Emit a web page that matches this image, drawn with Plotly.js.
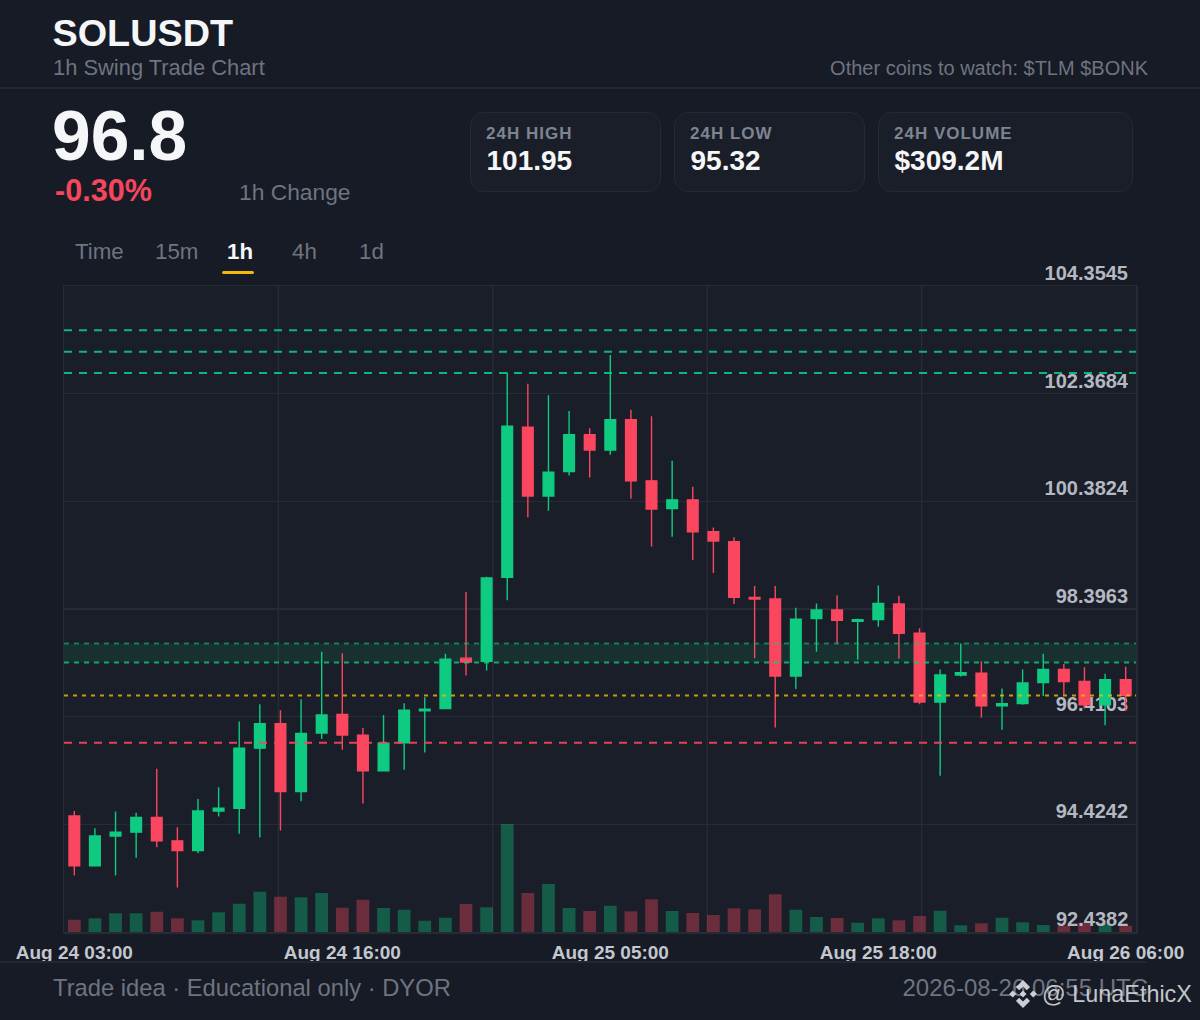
<!DOCTYPE html>
<html>
<head>
<meta charset="utf-8">
<title>SOLUSDT 1h Swing Trade Chart</title>
<script src="https://cdn.plot.ly/plotly-3.0.1.min.js"></script>
<style>
html,body{margin:0;padding:0;background:#161b25;}
#page{position:relative;width:1200px;height:1020px;overflow:hidden;background:#171b25;font-family:"Liberation Sans",Arial,sans-serif;}
#chart{position:absolute;left:0;top:0;width:1200px;height:1020px;}
.t{position:absolute;white-space:nowrap;line-height:1;}
.rule{position:absolute;height:2px;background:#222734;}
.card{position:absolute;top:112px;height:80px;box-sizing:border-box;border:1.5px solid #242935;border-radius:14px;background:#1a1e28;}
.card .l{position:absolute;left:15px;top:12px;font-size:17px;font-weight:700;letter-spacing:1px;color:#7d8492;line-height:1;white-space:nowrap;}
.card .v{position:absolute;left:15.5px;top:34px;font-size:28px;font-weight:700;color:#f5f6f7;line-height:1;white-space:nowrap;}
</style>
</head>
<body>
<div id="page">
  <div id="chart"></div>
  <div class="rule" style="left:0;top:87px;width:1200px;"></div>
  <div class="rule" style="left:0;top:961px;width:1147px;"></div>
  <div class="t" style="left:52.5px;top:15px;font-size:37.8px;font-weight:700;color:#f5f6f7;">SOLUSDT</div>
  <div class="t" style="left:53px;top:57px;font-size:21.9px;color:#6e7480;">1h Swing Trade Chart</div>
  <div class="t" style="right:52px;top:58px;font-size:20px;color:#6e7480;">Other coins to watch: $TLM $BONK</div>
  <div class="t" style="left:52px;top:102px;font-size:69.5px;font-weight:700;color:#f5f6f7;">96.8</div>
  <div class="t" style="left:55px;top:175px;font-size:30.6px;font-weight:700;color:#f6465d;">-0.30%</div>
  <div class="t" style="left:239px;top:181px;font-size:22.8px;color:#6e7480;">1h Change</div>
  <div class="card" style="left:470px;width:191px;"><div class="l">24H HIGH</div><div class="v">101.95</div></div>
  <div class="card" style="left:674px;width:191px;"><div class="l">24H LOW</div><div class="v">95.32</div></div>
  <div class="card" style="left:878px;width:255px;"><div class="l">24H VOLUME</div><div class="v">$309.2M</div></div>
  <div class="t" style="left:75px;top:241px;font-size:22.3px;color:#6e7480;">Time</div>
  <div class="t" style="left:155px;top:241px;font-size:22.3px;color:#6e7480;">15m</div>
  <div class="t" style="left:227px;top:241px;font-size:22.3px;font-weight:700;color:#f5f6f7;">1h</div>
  <div class="t" style="left:292px;top:241px;font-size:22.3px;color:#6e7480;">4h</div>
  <div class="t" style="left:359px;top:241px;font-size:22.3px;color:#6e7480;">1d</div>
  <div style="position:absolute;left:222px;top:271px;width:32px;height:3px;border-radius:2px;background:#f0b90b;"></div>
  <div class="t" style="left:53px;top:976px;font-size:23.76px;color:#6e7480;">Trade idea · Educational only · DYOR</div>
  <div class="t" style="right:52px;top:976px;font-size:24px;color:#6e7480;">2026-08-26 06:55 UTC</div>
  <svg style="position:absolute;left:1007px;top:978px;" width="32" height="32" viewBox="5.1 5.1 21.8 21.8">
    <g fill="#d6d8dc" fill-opacity="0.95">
      <path d="M16 6.5 L20.8 11.3 L18.6 13.5 L16 10.9 L13.4 13.5 L11.2 11.3 Z"/>
      <path d="M16 25.5 L20.8 20.7 L18.6 18.5 L16 21.1 L13.4 18.5 L11.2 20.7 Z"/>
      <path d="M16 13.6 L18.4 16 L16 18.4 L13.6 16 Z"/>
      <path d="M6.6 16 L9 13.6 L11.4 16 L9 18.4 Z"/>
      <path d="M20.6 16 L23 13.6 L25.4 16 L23 18.4 Z"/>
    </g>
  </svg>
  <div class="t" style="left:1042px;top:983px;font-size:23.4px;color:#d6d8dc;opacity:.9;">@ LunaEthicX</div>
</div>
<script>
var times = ["2026-08-24 03:00","2026-08-24 04:00","2026-08-24 05:00","2026-08-24 06:00","2026-08-24 07:00","2026-08-24 08:00","2026-08-24 09:00","2026-08-24 10:00","2026-08-24 11:00","2026-08-24 12:00","2026-08-24 13:00","2026-08-24 14:00","2026-08-24 15:00","2026-08-24 16:00","2026-08-24 17:00","2026-08-24 18:00","2026-08-24 19:00","2026-08-24 20:00","2026-08-24 21:00","2026-08-24 22:00","2026-08-24 23:00","2026-08-25 00:00","2026-08-25 01:00","2026-08-25 02:00","2026-08-25 03:00","2026-08-25 04:00","2026-08-25 05:00","2026-08-25 06:00","2026-08-25 07:00","2026-08-25 08:00","2026-08-25 09:00","2026-08-25 10:00","2026-08-25 11:00","2026-08-25 12:00","2026-08-25 13:00","2026-08-25 14:00","2026-08-25 15:00","2026-08-25 16:00","2026-08-25 17:00","2026-08-25 18:00","2026-08-25 19:00","2026-08-25 20:00","2026-08-25 21:00","2026-08-25 22:00","2026-08-25 23:00","2026-08-26 00:00","2026-08-26 01:00","2026-08-26 02:00","2026-08-26 03:00","2026-08-26 04:00","2026-08-26 05:00","2026-08-26 06:00"];
var opens  = [94.58,93.66,94.21,94.28,94.55,94.12,93.94,94.67,94.72,95.83,96.28,95.03,96.11,96.45,96.07,95.41,95.93,96.52,96.56,97.49,97.43,98.98,101.75,100.48,100.93,101.61,101.33,101.89,100.76,100.25,100.41,99.82,99.64,98.61,98.58,97.16,98.22,98.38,98.17,98.20,98.49,97.95,96.68,97.18,97.21,96.61,96.65,97.04,97.28,97.06,96.63,97.09];
var highs  = [94.67,94.35,94.66,94.64,95.45,94.37,94.89,95.11,96.32,96.64,96.53,96.73,97.61,97.58,96.20,96.44,96.66,96.77,97.57,98.71,98.99,102.76,102.55,102.34,102.05,101.73,103.08,102.07,101.95,101.13,100.65,99.90,99.72,98.82,98.82,98.42,98.50,98.65,98.22,98.83,98.64,98.04,97.28,97.76,97.43,96.93,97.28,97.57,97.38,97.32,97.20,97.33];
var lows   = [93.48,93.66,93.48,93.81,94.00,93.26,93.89,94.57,94.25,94.18,94.31,94.85,96.00,95.80,94.81,95.40,95.43,95.75,96.56,97.17,97.26,98.56,100.09,100.21,100.86,100.82,101.24,100.43,99.55,99.73,99.30,99.06,98.49,97.49,96.21,96.92,97.61,97.76,97.46,98.07,97.48,96.64,95.32,97.15,96.39,96.17,96.63,96.79,96.81,96.56,96.25,96.52];
var closes = [93.66,94.21,94.28,94.55,94.12,93.94,94.67,94.72,95.83,96.28,95.03,96.10,96.44,96.07,95.41,95.92,96.53,96.55,97.47,97.42,98.97,101.77,100.48,100.92,101.61,101.33,101.89,100.76,100.24,100.41,99.82,99.65,98.61,98.58,97.16,98.21,98.38,98.19,98.20,98.50,97.95,96.68,97.18,97.22,96.61,96.65,97.03,97.28,97.06,96.63,97.09,96.80];
var volumes = [12.3,13.7,18.7,18.7,20.3,13.7,11.7,19.7,28.3,40.3,35.3,34.7,39,24.3,32.3,24,22.3,11.3,14.3,28,24.7,108,39,48,24,21,26.3,20.7,32.7,21,19,17,23.7,22.7,37.7,22.3,15,14,9.3,13.7,11.7,16,21.3,6.7,8.7,14.3,9.7,7,6.3,9.3,8.3,6.3];
var volumeScaleMax = 646;

var priceTicks = [104.3545,102.3684,100.3824,98.3963,96.4103,94.4242,92.4382];
var priceLabels = ["104.3545","102.3684","100.3824","98.3963","96.4103","94.4242",""];
var bottomLabel = "92.4382";
var timeTicks = ["2026-08-24 03:00","2026-08-24 16:00","2026-08-25 05:00","2026-08-25 18:00","2026-08-26 06:00"];
var timeLabels = ["Aug 24 03:00","Aug 24 16:00","Aug 25 05:00","Aug 25 18:00","Aug 26 06:00"];

var targets = [103.54,103.14,102.75];
var zoneTop = 97.76, zoneBottom = 97.41;
var lastPrice = 96.80, stopLevel = 95.93;

var UP = "#0ecb81", DOWN = "#fb4660", GRID = "#272b36";
var volColors = closes.map(function(c,i){ return c >= opens[i] ? "rgba(14,203,129,0.36)" : "rgba(251,70,96,0.36)"; });

var candles = {
  type:"candlestick", x:times, open:opens, high:highs, low:lows, close:closes,
  increasing:{line:{color:UP,width:1.4},fillcolor:UP},
  decreasing:{line:{color:DOWN,width:1.4},fillcolor:DOWN},
  whiskerwidth:0, hoverinfo:"skip", showlegend:false, xaxis:"x", yaxis:"y"
};
var vol = {
  type:"bar", x:times, y:volumes, marker:{color:volColors,line:{width:0}},
  width:3600000*0.62, hoverinfo:"skip", showlegend:false, xaxis:"x", yaxis:"y2"
};

function hline(y,color,dash,width,opacity){
  return {type:"line",xref:"x domain",x0:0,x1:1,yref:"y",y0:y,y1:y,layer:"above",opacity:opacity||1,line:{color:color,width:width||2,dash:dash}};
}
function vgrid(f){
  return {type:"line",yref:"y domain",y0:0,y1:1,xref:"x domain",x0:f,x1:f,layer:"below",line:{color:GRID,width:1.5}};
}
var shapes = [0.2,0.4,0.6,0.8].map(vgrid);
shapes.push({type:"rect",xref:"x domain",x0:0,x1:1,yref:"y",y0:zoneBottom,y1:zoneTop,layer:"below",line:{width:0},fillcolor:"rgba(14,203,129,0.11)"});
targets.forEach(function(v){ shapes.push(hline(v,UP,"8px,7px",2,0.88)); });
shapes.push(hline(zoneTop,UP,"5px,5px",2,0.55));
shapes.push(hline(zoneBottom,UP,"5px,5px",2,0.8));
shapes.push(hline(lastPrice,"#f0b90b","4px,5px",2,0.8));
shapes.push(hline(stopLevel,DOWN,"8px,7px",2,0.9));

var layout = {
  width:1200, height:1020, autosize:false,
  margin:{l:64,r:64,t:286,b:88,pad:0},
  paper_bgcolor:"rgba(0,0,0,0)", plot_bgcolor:"#1a1e28",
  showlegend:false, dragmode:false, boxgap:0.26,
  font:{family:'"Liberation Sans",Arial,sans-serif'},
  xaxis:{type:"date",range:["2026-08-24 02:30","2026-08-26 06:30"],rangeslider:{visible:false},
    tickmode:"array",tickvals:timeTicks,ticktext:timeLabels,tickangle:0,ticklen:0,ticks:"",
    showgrid:false,showline:true,linecolor:GRID,linewidth:1.5,mirror:true,zeroline:false,
    tickfont:{size:19,color:"#c3c7cf",weight:700},ticklabeloverflow:"allow",ticklabelstandoff:3,layer:"below traces"},
  yaxis:{range:[priceTicks[6],priceTicks[0]],side:"right",tickmode:"array",tickvals:priceTicks,ticktext:priceLabels,
    ticklabelposition:"inside",ticklabeloverflow:"allow",ticklen:0,ticks:"",ticklabelstandoff:9,ticklabelshift:-13,
    showgrid:true,gridcolor:GRID,gridwidth:1.5,zeroline:false,showline:true,linecolor:GRID,linewidth:1.5,mirror:true,
    tickfont:{size:20,color:"#b4b8c1",weight:700},layer:"below traces"},
  yaxis2:{overlaying:"y",range:[0,volumeScaleMax],visible:false,showgrid:false,zeroline:false},
  shapes:shapes,
  annotations:[{text:bottomLabel,xref:"x domain",x:1,xanchor:"right",xshift:-7,yref:"y",y:priceTicks[6],yanchor:"middle",yshift:13,showarrow:false,
    font:{size:20,color:"#b4b8c1",weight:700},borderpad:0}]
};
Plotly.newPlot("chart",[vol,candles],layout,{staticPlot:true,displayModeBar:false});
</script>
</body>
</html>
